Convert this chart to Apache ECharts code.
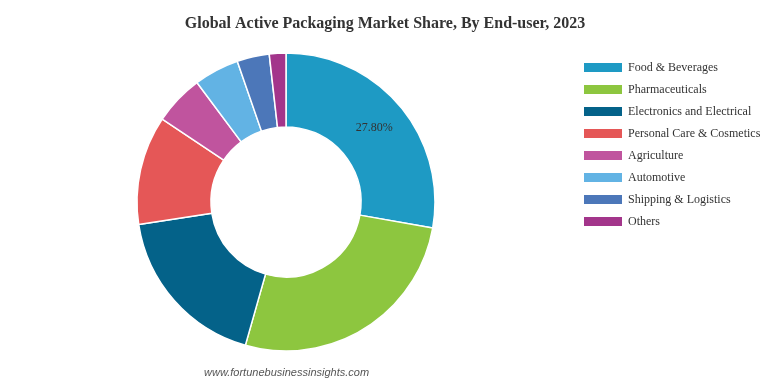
<!DOCTYPE html>
<html><head><meta charset="utf-8">
<script src="https://cdn.jsdelivr.net/npm/echarts@6/dist/echarts.min.js"></script>
<style>html,body{margin:0;padding:0;background:#fff}#c{width:770px;height:385px}</style>
</head><body><div id="c"></div>
<script>
var categories = ["Food & Beverages","Pharmaceuticals","Electronics and Electrical","Personal Care & Cosmetics","Agriculture","Automotive","Shipping & Logistics","Others"];
var shares = [27.8, 26.6, 18.2, 11.8, 5.4, 4.9, 3.5, 1.8];
var colors = ["#1e9ac4","#8dc63f","#046289","#e55757","#c0549e","#62b3e4","#4c77b9","#a3358b"];
var labelled = [true,false,false,false,false,false,false,false];

var chart = echarts.init(document.getElementById('c'));
chart.setOption({
  animation:false,
  title:{text:"Global Active Packaging Market Share, By End-user, 2023",left:'center',top:11,
    textStyle:{fontFamily:"Liberation Serif, serif",fontSize:16,fontWeight:'bold',color:'#333'}},
  graphic:[{type:'text',style:{text:'www.fortunebusinessinsights.com',
     font:'italic 11px "Liberation Sans", Arial, sans-serif',fill:'#555'},left:204,top:367}],
  legend:{orient:'vertical',left:577,top:56,itemWidth:40,itemHeight:11,itemGap:9,icon:'rect',
    data:categories,textStyle:{fontFamily:"Liberation Serif, serif",fontSize:12,color:'#333'}},
  color:colors,
  series:[{type:'pie',center:[286,202],radius:[75,149],startAngle:90,clockwise:true,
    itemStyle:{borderColor:'#fff',borderWidth:1.5},
    labelLine:{show:false},
    data:categories.map(function(c,i){return {name:c,value:shares[i],
      label:{show:labelled[i],position:'inside',formatter:function(p){return p.value.toFixed(2)+'%';},
        fontFamily:"Liberation Serif, serif",fontSize:12,color:'#333'}};})
  }]
});
</script></body></html>
